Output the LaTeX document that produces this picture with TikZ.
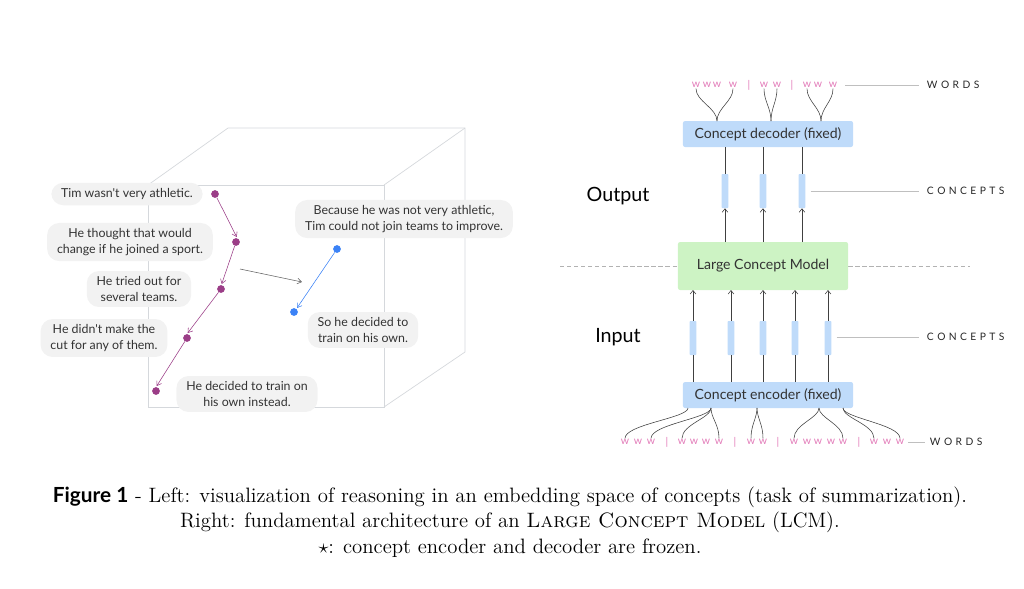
\documentclass[tikz,border=0pt]{standalone}
\usepackage{fontspec}
\newfontfamily\lbl{Lato}
\usetikzlibrary{arrows.meta}
\definecolor{dotpurple}{HTML}{9B3D87}
\definecolor{dotblue}{HTML}{3B82F6}
\definecolor{boxblue}{HTML}{BFDBFA}
\definecolor{lcmgreen}{HTML}{CDF3C4}
\definecolor{wordpink}{HTML}{E27AB8}
\definecolor{cubegray}{HTML}{D5D8DC}
\tikzset{
  pill/.style={fill=gray!10,rounded corners=3mm,align=center,inner xsep=7pt,inner ysep=4pt,font=\lbl\fontsize{8.8}{11}\selectfont,text=black!80},
  pt/.style={circle,inner sep=0pt,minimum size=5.5pt},
  hop/.style={-{Straight Barb[length=3pt,width=4pt]},thin},
  blk/.style={rounded corners=1.5pt,minimum width=4.25cm,minimum height=0.65cm,font=\lbl\fontsize{10}{12}\selectfont,text=black!80},
  bar/.style={fill=boxblue,rounded corners=0.6pt,minimum width=0.17cm,minimum height=0.85cm,inner sep=0pt},
  w/.style={font=\lbl\fontsize{7.5}{8}\selectfont,text=wordpink,inner sep=0.5pt},
  tag/.style={font=\lbl\fontsize{7.3}{8}\selectfont,text=black!85},
  up/.style={-{Straight Barb[length=2.5pt,width=4pt]},black!75,thin}
}
\begin{document}
\begin{tikzpicture}[x=0.025cm,y=-0.025cm]
  \useasboundingbox (0,0) rectangle (1024,588);
  % cube
  \begin{scope}[cubegray,line width=0.5pt]
    \draw (148,185) rectangle (384,407);
    \draw (148,185) -- (228,128) -- (465,128) -- (465,352) -- (384,407);
    \draw (384,185) -- (465,128);
  \end{scope}
  % sentences
  \node[pill] at (127,194) {Tim wasn't very athletic.};
  \node[pill] at (130,242) {He thought that would\\change if he joined a sport.};
  \node[pill] at (139,289) {He tried out for\\several teams.};
  \node[pill] at (104,338) {He didn't make the\\cut for any of them.};
  \node[pill] at (247,394) {He decided to train on\\his own instead.};
  \node[pill] at (404,219) {Because he was not very athletic,\\Tim could not join teams to improve.};
  \node[pill] at (363,330) {So he decided to\\train on his own.};
  % embeddings
  \foreach \n/\x/\y in {p1/215/194,p2/236/242,p3/221/289,p4/187/338,p5/156/391}
    \node[pt,fill=dotpurple] (\n) at (\x,\y) {};
  \node[pt,fill=dotblue] (b1) at (337,249) {};
  \node[pt,fill=dotblue] (b2) at (294,312) {};
  \foreach \a/\b in {p1/p2,p2/p3,p3/p4,p4/p5}
    \draw[hop,dotpurple] (\a) -- ([shift={(0.7,-5)}]\b.center);
  \draw[hop,dotblue] (b1) -- ([shift={(3,-4)}]b2.center);
  \coordinate (g1) at (240,269);
  \coordinate (g2) at (302,282);
  \draw[hop,black!60] (g1) -- (g2);

  % architecture
  \draw[densely dashed,black!30,line width=0.4pt] (560,266) -- (970,266);
  \node[blk,fill=boxblue] (dec) at (768,134) {Concept decoder (fixed)};
  \node[blk,fill=lcmgreen,minimum height=1.2cm] (lcm) at (763,266) {Large Concept Model};
  \node[blk,fill=boxblue] (enc) at (768,395) {Concept encoder (fixed)};
  \node[font=\lbl\fontsize{14}{16}\selectfont] at (618,196) {Output};
  \node[font=\lbl\fontsize{14}{16}\selectfont] at (618,337) {Input};
  % output concepts
  \foreach \i/\x in {1/725,2/763,3/802} {
    \node[bar] (o\i) at (\x,191) {};
    \draw[black!75,thin] (\x,147) -- (o\i.north);
    \draw[up] (\x,242) -- (o\i.south);
  }
  % input concepts
  \foreach \i/\x in {1/693,2/731,3/763,4/795,5/828} {
    \node[bar] (c\i) at (\x,338) {};
    \draw[up] (c\i.north) -- (\x,290);
    \draw[black!75,thin] (c\i.south) -- (\x,382);
  }
  % top words
  \foreach \i/\x/\t in {1/696/w,2/707/w,3/717/w,4/733/w,5/749/|,6/764/w,7/777/w,8/792/|,9/807/w,10/818/w,11/833/w}
    \node[w] (t\i) at (\x,85) {\t};
  \foreach \a/\m in {1/717,4/717,6/771,7/771,9/821,11/821}
    \draw[black!75,thin] (t\a.south) .. controls ([yshift=-9pt]t\a.south) and (\m,108) .. (\m,121);
  % bottom words
  \foreach \i/\x/\t in {1/625/w,2/638/w,3/651/w,4/667/|,5/682/w,6/694/w,7/706/w,8/719/w,9/735/|,10/751/w,11/763/w,12/778/|,13/794/w,14/807/w,15/818/w,16/831/w,17/843/w,18/859/|,19/874/w,20/887/w,21/900/w}
    \node[w] (s\i) at (\x,442) {\t};
  \foreach \a/\m in {1/688,3/711,5/711,8/711,10/757,11/757,13/819,17/819,19/843,21/843}
    \draw[black!75,thin] (s\a.north) .. controls ([yshift=10pt]s\a.north) and (\m,418) .. (\m,408);
  % side tags
  \node[tag,anchor=west] (wt) at (922,85) {W\,\,O\,\,R\,\,D\,\,S};
  \draw[black!25,thin] (845,85) -- ([xshift=-2pt]wt.west);
  \node[tag,anchor=west] (ct) at (922,191) {C\,\,O\,\,N\,\,C\,\,E\,\,P\,\,T\,\,S};
  \draw[black!25,thin] (o3.east) ++(5,0) -- ([xshift=-2pt]ct.west);
  \node[tag,anchor=west] (ci) at (922,337) {C\,\,O\,\,N\,\,C\,\,E\,\,P\,\,T\,\,S};
  \draw[black!25,thin] (c5.east) ++(5,-1) -- ([xshift=-2pt]ci.west);
  \node[tag,anchor=west] (wb) at (925,442) {W\,\,O\,\,R\,\,D\,\,S};
  \draw[black!25,thin] (s21.east) ++(3,0) -- (wb.west);

  % caption
  \node[align=center,font=\fontsize{14.8}{18}\selectfont] at (510,522)
    {{\lbl\bfseries Figure 1} - Left: visualization of reasoning in an embedding space of concepts (task of summarization).\\
     Right: fundamental architecture of an \textsc{Large Concept Model} (LCM).\\
     $\star$: concept encoder and decoder are frozen.};
\end{tikzpicture}
\end{document}
